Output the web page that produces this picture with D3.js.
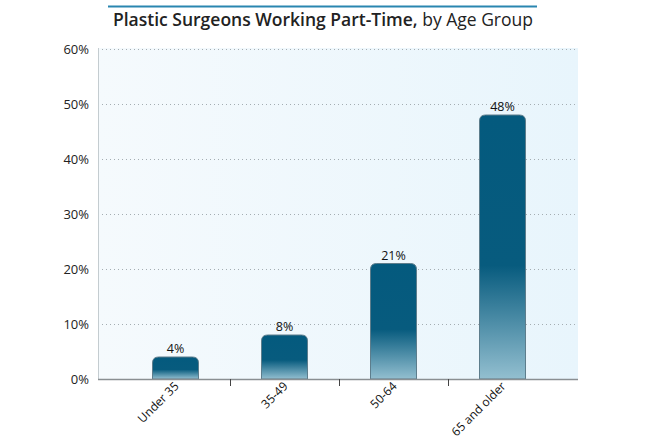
<!DOCTYPE html>
<html>
<head>
<meta charset="utf-8">
<script src="https://cdn.jsdelivr.net/npm/d3@7"></script>
<style>
  body { margin: 0; background: #fff; }
  svg { display: block; font-family: "Open Sans", Lato, sans-serif; }
</style>
</head>
<body>
<script>
var categories = ["Under 35", "35-49", "50-64", "65 and older"];
var values = [4, 8, 21, 48];
var yTicks = [0, 10, 20, 30, 40, 50, 60];

(function () {
    var width = 645, height = 439;
    var plotLeft = 98, plotRight = 578, plotTop = 49, plotBottom = 379;

    var svg = d3.select("body").append("svg")
        .attr("width", width)
        .attr("height", height);

    var defs = svg.append("defs");
    var bg = defs.append("linearGradient").attr("id", "bg")
        .attr("x1", "0").attr("y1", "0").attr("x2", "1").attr("y2", "0");
    bg.append("stop").attr("offset", "0%").attr("stop-color", "#f5fafd");
    bg.append("stop").attr("offset", "100%").attr("stop-color", "#e8f5fc");

    var barGrad = defs.append("linearGradient").attr("id", "bar")
        .attr("x1", "0").attr("y1", "0").attr("x2", "0").attr("y2", "1");
    barGrad.append("stop").attr("offset", "0%").attr("stop-color", "#045a7e");
    barGrad.append("stop").attr("offset", "57%").attr("stop-color", "#075b7e");
    barGrad.append("stop").attr("offset", "100%").attr("stop-color", "#93bfd0");

    var x = d3.scaleBand()
        .domain(categories)
        .range([121, 557])
        .padding(0);
    var y = d3.scaleLinear()
        .domain([0, 60])
        .range([plotBottom, plotTop]);

    // title
    svg.append("line")
        .attr("x1", 108).attr("x2", 537)
        .attr("y1", 6.5).attr("y2", 6.5)
        .style("stroke", "#2a86b0")
        .style("stroke-width", 2);
    var title = svg.append("text")
        .attr("x", 323).attr("y", 26)
        .attr("text-anchor", "middle")
        .style("font-size", "17.5px")
        .style("fill", "#222");
    title.append("tspan").style("font-weight", "600").text("Plastic Surgeons Working Part-Time,");
    title.append("tspan").text(" by Age Group");

    // plot background
    svg.append("rect")
        .attr("x", plotLeft).attr("y", plotTop - 1)
        .attr("width", plotRight - plotLeft).attr("height", plotBottom - plotTop + 1)
        .attr("fill", "url(#bg)");

    // grid
    svg.append("g").selectAll("line")
        .data(yTicks.slice(1))
        .enter().append("line")
        .attr("x1", plotLeft).attr("x2", plotRight)
        .attr("y1", (d) => y(d) + 0.5).attr("y2", (d) => y(d) + 0.5)
        .style("stroke", "#a4adb2")
        .style("stroke-width", 1)
        .style("stroke-dasharray", "1,3");

    // y axis line
    svg.append("line")
        .attr("x1", plotLeft + 0.5).attr("x2", plotLeft + 0.5)
        .attr("y1", plotTop - 1).attr("y2", plotBottom)
        .style("stroke", "#c4ccd0");

    // y labels
    svg.append("g").selectAll("text")
        .data(yTicks)
        .enter().append("text")
        .attr("x", 89)
        .attr("y", (d) => y(d) + 5)
        .attr("text-anchor", "end")
        .style("font-size", "13px")
        .style("fill", "#222")
        .text((d) => d + "%");

    // bars
    var barW = 46;
    function barPath(d, i) {
        var cx = x(categories[i]) + x.bandwidth() / 2;
        var x0 = cx - barW / 2, x1 = cx + barW / 2;
        var y0 = y(d), y1 = y(0);
        var r = 6;
        return "M" + x0 + "," + y1 +
            "V" + (y0 + r) +
            "Q" + x0 + "," + y0 + " " + (x0 + r) + "," + y0 +
            "H" + (x1 - r) +
            "Q" + x1 + "," + y0 + " " + x1 + "," + (y0 + r) +
            "V" + y1 + "Z";
    }
    svg.append("g").selectAll("path")
        .data(values)
        .enter().append("path")
        .attr("d", barPath)
        .attr("fill", "url(#bar)")
        .style("stroke", "#5d7d8c")
        .style("stroke-width", 1);

    // value labels
    svg.append("g").selectAll("text")
        .data(values)
        .enter().append("text")
        .attr("x", (d, i) => x(categories[i]) + x.bandwidth() / 2)
        .attr("y", (d) => y(d) - 4)
        .attr("text-anchor", "middle")
        .style("font-size", "12.5px")
        .style("fill", "#111")
        .text((d) => d + "%");

    // x axis
    svg.append("line")
        .attr("x1", plotLeft).attr("x2", plotRight)
        .attr("y1", plotBottom + 0.5).attr("y2", plotBottom + 0.5)
        .style("stroke", "#8a8f92")
        .style("stroke-width", 1.5);
    svg.append("g").selectAll("line")
        .data(categories.slice(1))
        .enter().append("line")
        .attr("x1", (d) => x(d) + 0.5).attr("x2", (d) => x(d) + 0.5)
        .attr("y1", plotBottom).attr("y2", plotBottom + 7)
        .style("stroke", "#444");

    svg.append("g").selectAll("text")
        .data(categories)
        .enter().append("text")
        .attr("transform", (d) => {
            var cx = x(d) + x.bandwidth() / 2 + 4;
            return "translate(" + cx + "," + (plotBottom + 8) + ") rotate(-45)";
        })
        .attr("text-anchor", "end")
        .style("font-size", "12px")
        .style("fill", "#111")
        .text((d) => d);
})();
</script>
</body>
</html>
